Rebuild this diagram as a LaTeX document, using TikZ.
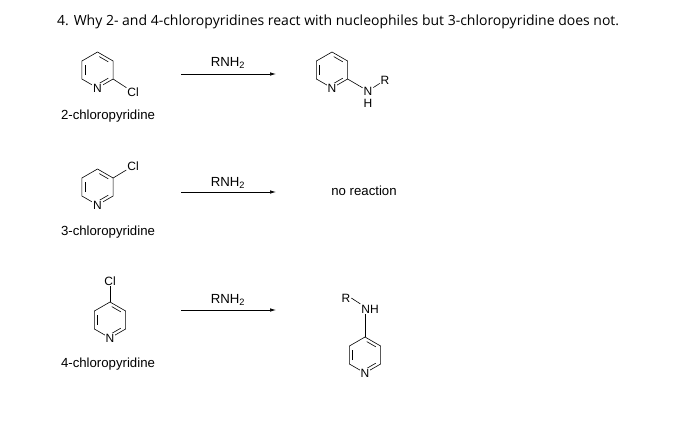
\documentclass[tikz,border=0pt]{standalone}
\usepackage{fontspec}
\setmainfont{Liberation Sans}
\newfontfamily\titlefont{Open Sans}
\usetikzlibrary{calc,arrows.meta}
\newcommand\pyr[3]{% name, x, y
  \coordinate (#1c) at (#2,#3);
  \coordinate (#1t) at (#2,#3-18);
  \coordinate (#1ur) at (#2+15.6,#3-9);
  \coordinate (#1lr) at (#2+15.6,#3+9);
  \coordinate (#1b) at (#2,#3+18);
  \coordinate (#1ll) at (#2-15.6,#3+9);
  \coordinate (#1ul) at (#2-15.6,#3-9);
  \draw[bond] (#1t)--(#1ur)--(#1lr)--(#1b)--(#1ll)--(#1ul)--cycle;
  \draw[bond,shorten <=2pt,shorten >=2pt] ($(#1c)!0.8!(#1t)$)--($(#1c)!0.8!(#1ur)$);
  \draw[bond,shorten <=2pt,shorten >=2pt] ($(#1c)!0.8!(#1ll)$)--($(#1c)!0.8!(#1ul)$);
  \draw[bond,shorten <=2pt,shorten >=2pt] ($(#1c)!0.8!(#1lr)$)--($(#1c)!0.8!(#1b)$);
  \node[atom] (#1N) at (#1b) {N};
}
\begin{document}
\begin{tikzpicture}[x=1pt,y=-1pt,
  bond/.style={line width=0.6pt},
  atom/.style={font=\fontsize{12}{13}\selectfont,inner sep=0.8pt,fill=white},
  lbl/.style={font=\fontsize{13.2}{15}\selectfont,inner sep=0pt},
  rxn/.style={line width=0.7pt,-{Latex[length=6pt,width=3.5pt]}}]
\useasboundingbox (0,0) rectangle (700,447);
\node[anchor=west,inner sep=0pt,font=\titlefont\fontsize{14}{16}\selectfont] (title) at (57,22) {4. Why 2- and 4-chloropyridines react with nucleophiles but 3-chloropyridine does not.};
% row 1
\pyr{a}{97.5}{70}
\node[atom] (aCl) at (133,92) {Cl};
\draw[bond] (alr)--(aCl);
\node[lbl] (aL) at (108,116) {2-chloropyridine};
\coordinate (a1) at (181,74); \coordinate (a2) at (276,74);
\draw[rxn] (a1)--(a2);
\node[lbl] (aR) at (228,63) {RNH\textsubscript{2}};
\pyr{p}{332}{70}
\node[atom] (pN2) at (368,91) {N};
\node[atom] (pH) at (368,103) {H};
\node[atom] (pR) at (385,80) {R};
\draw[bond] (plr)--(pN2); \draw[bond] (pN2)--(pR);
% row 2
\pyr{b}{97.5}{187}
\node[atom] (bCl) at (133,166) {Cl};
\draw[bond] (bur)--(bCl);
\node[lbl] (bL) at (108,232) {3-chloropyridine};
\coordinate (b1) at (181,192); \coordinate (b2) at (276,192);
\draw[rxn] (b1)--(b2);
\node[lbl] (bR) at (228,183) {RNH\textsubscript{2}};
\node[lbl] (bP) at (364,191) {no reaction};
% row 3
\pyr{c}{110}{320}
\node[atom] (cCl) at (110,281) {Cl};
\draw[bond] (ct)--(cCl);
\node[lbl] (cL) at (108,364) {4-chloropyridine};
\coordinate (c1) at (181,310); \coordinate (c2) at (276,310);
\draw[rxn] (c1)--(c2);
\node[lbl] (cR) at (228,300) {RNH\textsubscript{2}};
\pyr{q}{365}{355}
\node[atom] (qNH) at (370,309) {NH};
\node[atom] (qR) at (346,298) {R};
\draw[bond] (qt)--(qt|-qNH.south);
\draw[bond] (qR.east)--(qNH.north west);
\end{tikzpicture}
\end{document}
